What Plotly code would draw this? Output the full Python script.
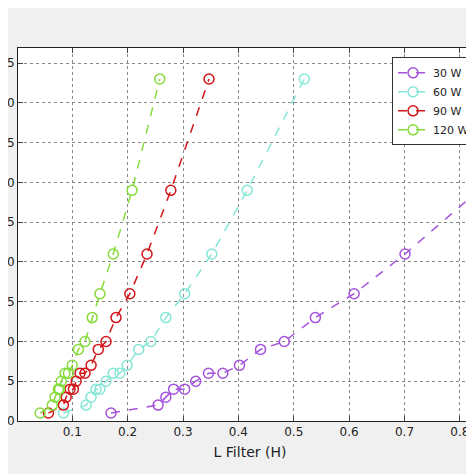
import plotly.graph_objects as go

y_common = [1, 2, 3, 4, 4, 5, 6, 6, 7, 9, 10, 13, 16, 21, 29, 43]

L_30 = [0.170, 0.255, 0.269, 0.283, 0.303, 0.323, 0.346, 0.372, 0.402, 0.440, 0.483, 0.539, 0.609, 0.701, 0.834]
P_30 = y_common[:15]
L_60 = [0.084, 0.125, 0.134, 0.143, 0.150, 0.161, 0.174, 0.186, 0.199, 0.220, 0.242, 0.269, 0.303, 0.352, 0.416, 0.519]
P_60 = y_common
L_90 = [0.057, 0.084, 0.089, 0.096, 0.102, 0.107, 0.114, 0.123, 0.134, 0.147, 0.161, 0.179, 0.204, 0.235, 0.278, 0.347]
P_90 = y_common
L_120 = [0.042, 0.064, 0.069, 0.075, 0.077, 0.080, 0.087, 0.093, 0.100, 0.111, 0.123, 0.136, 0.150, 0.174, 0.208, 0.258]
P_120 = y_common

series = [("30 W", L_30, P_30, "#a552dc"),
          ("60 W", L_60, P_60, "#86e6d6"),
          ("90 W", L_90, P_90, "#d2161a"),
          ("120 W", L_120, P_120, "#86dc3c")]

fig = go.Figure()
for name, xs, ys, col in series:
    fig.add_trace(go.Scatter(x=xs, y=ys, mode="lines+markers", name=name,
                             line=dict(color=col, width=1.5, dash="dash"),
                             marker=dict(symbol="circle-open", size=10, color=col, line=dict(width=1.5))))

fig.update_layout(
    width=474, height=474,
    margin=dict(l=10, r=0, t=40, b=61, autoexpand=False),
    paper_bgcolor="#f0f0f0", plot_bgcolor="white",
    font=dict(family="DejaVu Sans", size=12, color="#222"),
    legend=dict(x=0.985, y=0.975, xanchor="right", yanchor="top",
                bgcolor="white", bordercolor="#333", borderwidth=1, font=dict(size=11)),
)
fig.update_xaxes(range=[0.002, 0.84], tickvals=[0.1, 0.2, 0.3, 0.4, 0.5, 0.6, 0.7, 0.8],
                 showgrid=True, gridcolor="#888", griddash="dot", gridwidth=1, automargin=False,
                 showline=True, linecolor="#222", mirror="ticks", ticks="inside", ticklen=5,
                 title=dict(text="L Filter (H)", standoff=8), zeroline=False)
fig.update_yaxes(range=[0, 46.9], tickvals=list(range(0, 50, 5)), automargin=False,
                 showgrid=True, gridcolor="#888", griddash="dot", gridwidth=1,
                 showline=True, linecolor="#222", mirror="ticks", ticks="inside", ticklen=5,
                 zeroline=False)

fig.write_html("out.html")
